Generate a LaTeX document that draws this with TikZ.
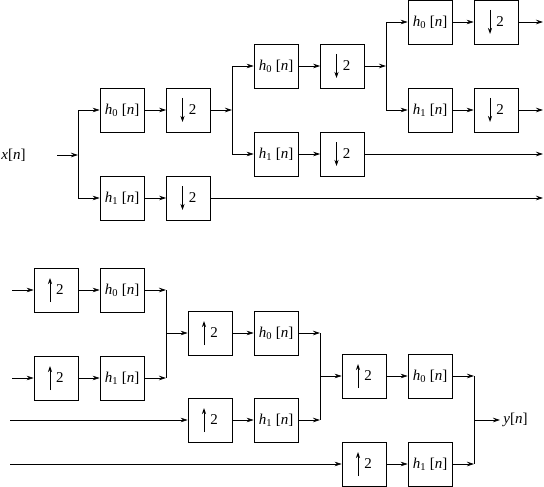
\documentclass[tikz,border=0pt]{standalone}
\usepackage{fontspec}
\setmainfont{Liberation Serif}
\usetikzlibrary{arrows.meta}
\newcommand\hfilt[1]{\textit{h}\textsubscript{#1} [\textit{n}]}
\begin{document}
\begin{tikzpicture}[x=1pt,y=-1pt,
  line width=0.7pt,
  tip/.style={-{Stealth[length=7pt,width=4.5pt]}},
  blk/.style={draw,minimum width=44pt,minimum height=44pt,inner sep=0pt,font=\fontsize{15}{17}\selectfont},
  down/.style={blk,path picture={\draw[-{Stealth[length=6pt,width=4pt]},line width=0.8pt]
     ([xshift=-6pt,yshift=12pt]path picture bounding box.center) -- ++(0,-24pt);}},
  up/.style={blk,path picture={\draw[-{Stealth[length=6pt,width=4pt]},line width=0.8pt]
     ([xshift=-6pt,yshift=-12pt]path picture bounding box.center) -- ++(0,24pt);}},
  lbl/.style={inner sep=0pt,font=\fontsize{15}{17}\selectfont}]
\useasboundingbox (0,0) rectangle (544,487);
% ---------- analysis ----------
\node[lbl,anchor=west] (x) at (1,155) {\textit{x}[\textit{n}]};
\coordinate (xs) at (57,155);
\coordinate (b1) at (78,155);
\node[blk] (h0a) at (122,110) {\hfilt{0}};
\node[down] (d1) at (188.5,110) {\hspace{8pt}2};
\node[blk] (h1a) at (122,198) {\hfilt{1}};
\node[down] (d2) at (188.5,198) {\hspace{8pt}2};
\coordinate (b2) at (232,110);
\node[blk] (h0b) at (276,66) {\hfilt{0}};
\node[down] (d3) at (342.5,66) {\hspace{8pt}2};
\node[blk] (h1b) at (276,154) {\hfilt{1}};
\node[down] (d4) at (342.5,154) {\hspace{8pt}2};
\coordinate (b3) at (386,66);
\node[blk] (h0c) at (430,22) {\hfilt{0}};
\node[down] (d5) at (496,22) {\hspace{8pt}2};
\node[blk] (h1c) at (430,110) {\hfilt{1}};
\node[down] (d6) at (496,110) {\hspace{8pt}2};
\coordinate (o1) at (543,22);
\coordinate (o2) at (543,110);
\coordinate (o3) at (543,154);
\coordinate (o4) at (543,198);
\draw[tip] (xs) -- (b1);
\draw[tip] (b1) |- (h0a);
\draw[tip] (b1) |- (h1a);
\draw[tip] (h0a) -- (d1);
\draw[tip] (h1a) -- (d2);
\draw[tip] (d1) -- (b2);
\draw[tip] (b2) |- (h0b);
\draw[tip] (b2) |- (h1b);
\draw[tip] (h0b) -- (d3);
\draw[tip] (h1b) -- (d4);
\draw[tip] (d3) -- (b3);
\draw[tip] (b3) |- (h0c);
\draw[tip] (b3) |- (h1c);
\draw[tip] (h0c) -- (d5);
\draw[tip] (h1c) -- (d6);
\draw[tip] (d5) -- (o1);
\draw[tip] (d6) -- (o2);
\draw[tip] (d4) -- (o3);
\draw[tip] (d2) -- (o4);
% ---------- synthesis ----------
\coordinate (i1) at (12,290);
\coordinate (i2) at (12,378);
\coordinate (i3) at (10,420);
\coordinate (i4) at (10,464);
\node[up] (u1) at (56,290) {\hspace{8pt}2};
\node[blk] (g1) at (122,290) {\hfilt{0}};
\node[up] (u2) at (56,378) {\hspace{8pt}2};
\node[blk] (g2) at (122,378) {\hfilt{1}};
\coordinate (m1a) at (166,290);
\coordinate (m1b) at (166,378);
\coordinate (m1) at (166,333);
\node[up] (u3) at (210,333) {\hspace{8pt}2};
\node[blk] (g3) at (276,333) {\hfilt{0}};
\node[up] (u4) at (210,420) {\hspace{8pt}2};
\node[blk] (g4) at (276,420) {\hfilt{1}};
\coordinate (m2a) at (320,333);
\coordinate (m2b) at (320,420);
\coordinate (m2) at (320,376);
\node[up] (u5) at (364,376) {\hspace{8pt}2};
\node[blk] (g5) at (430,376) {\hfilt{0}};
\node[up] (u6) at (364,464) {\hspace{8pt}2};
\node[blk] (g6) at (430,464) {\hfilt{1}};
\coordinate (m3a) at (474,376);
\coordinate (m3b) at (474,464);
\coordinate (m3) at (474,420);
\coordinate (ye) at (500,420);
\node[lbl,anchor=west] (y) at (503,420) {\textit{y}[\textit{n}]};
\draw[tip] (i1) -- (u1);
\draw[tip] (i2) -- (u2);
\draw[tip] (u1) -- (g1);
\draw[tip] (u2) -- (g2);
\draw[tip] (g1) -- (m1a);
\draw[tip] (g2) -- (m1b);
\draw (m1a) -- (m1b);
\draw[tip] (m1) -- (u3);
\draw[tip] (i3) -- (u4);
\draw[tip] (u3) -- (g3);
\draw[tip] (u4) -- (g4);
\draw[tip] (g3) -- (m2a);
\draw[tip] (g4) -- (m2b);
\draw (m2a) -- (m2b);
\draw[tip] (m2) -- (u5);
\draw[tip] (i4) -- (u6);
\draw[tip] (u5) -- (g5);
\draw[tip] (u6) -- (g6);
\draw[tip] (g5) -- (m3a);
\draw[tip] (g6) -- (m3b);
\draw (m3a) -- (m3b);
\draw[tip] (m3) -- (ye);
\end{tikzpicture}
\end{document}
